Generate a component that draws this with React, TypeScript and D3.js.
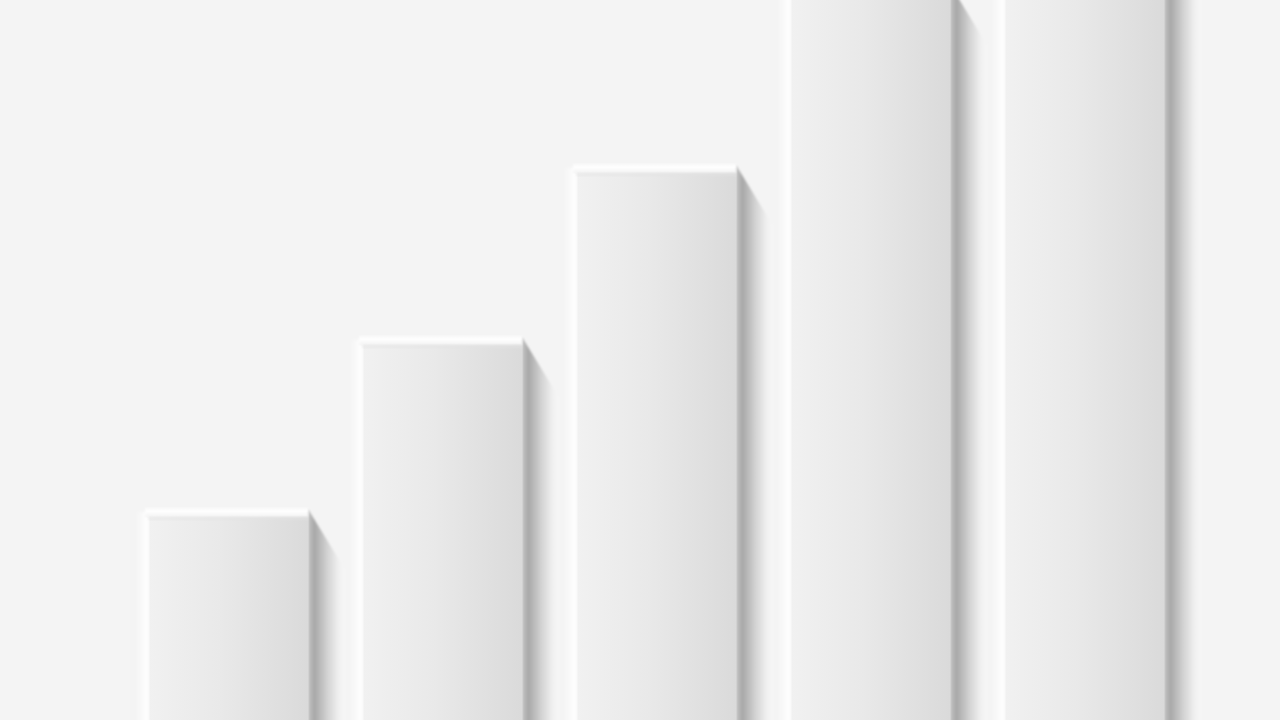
import React from 'react';
import * as d3 from 'd3';

const categories = ['A', 'B', 'C', 'D', 'E'];
const values = [20, 40, 60, 81, 100];

const W = 1280;
const H = 720;

const App: React.FC = () => {
  const x = d3.scaleBand<string>()
    .domain(categories)
    .range([121, 1191])
    .paddingInner(0.252)
    .paddingOuter(0.126);

  const y = d3.scaleLinear()
    .domain([0, 100])
    .range([684, -176]);

  const bw = x.bandwidth();

  return (
    <svg width={W} height={H} style={{ position: 'fixed', left: 0, top: 0, display: 'block' }}>
      <defs>
        <linearGradient id="body" x1="0" x2="1" y1="0" y2="0">
          <stop offset="0" stopColor="#f1f1f1" />
          <stop offset="0.45" stopColor="#e9e9e9" />
          <stop offset="1" stopColor="#dadada" />
        </linearGradient>
        <linearGradient id="side" x1="0" x2="1" y1="0" y2="0">
          <stop offset="0" stopColor="#c4c4c4" />
          <stop offset="0.18" stopColor="#a8a8a8" />
          <stop offset="0.55" stopColor="#d4d4d4" />
          <stop offset="0.85" stopColor="#f0f0f0" />
          <stop offset="1" stopColor="#f6f6f6" />
        </linearGradient>
        <linearGradient id="glowGrad" x1="0" x2="1" y1="0" y2="0">
          <stop offset="0" stopColor="#ffffff" stopOpacity="0" />
          <stop offset="0.6" stopColor="#ffffff" stopOpacity="0.7" />
          <stop offset="1" stopColor="#ffffff" stopOpacity="1" />
        </linearGradient>
        <linearGradient id="cap" x1="0" x2="0" y1="0" y2="1">
          <stop offset="0" stopColor="#ffffff" stopOpacity="0.6" />
          <stop offset="0.4" stopColor="#ffffff" />
          <stop offset="1" stopColor="#f2f2f2" />
        </linearGradient>
        <filter id="soft" x="-20%" y="-5%" width="140%" height="110%">
          <feGaussianBlur stdDeviation="1.2" />
        </filter>
        <filter id="glow" x="-50%" y="-50%" width="200%" height="200%">
          <feGaussianBlur stdDeviation="1.5" />
        </filter>
      </defs>
      <rect width={W} height={H} fill="#f4f4f4" />
      {categories.map((c, i) => {
        const left = x(c)!;
        const right = left + bw;
        const top = y(values[i]);
        return (
          <g key={c}>
            {/* right face / shadow */}
            <polygon
              points={`${right},${top - 3} ${right + 36},${top + 56} ${right + 36},${H + 10} ${right},${H + 10}`}
              fill="url(#side)"
              filter="url(#soft)"
            />
            {/* left glow */}
            <rect x={left - 12} y={top} width={13} height={H - top + 10} fill="url(#glowGrad)" filter="url(#glow)" />
            {/* body */}
            <rect x={left} y={top} width={bw} height={H - top + 10} fill="url(#body)" />
            <rect x={left} y={top} width={1.5} height={H - top + 10} fill="#fafafa" />
            {/* top cap */}
            <rect x={left - 3} y={top - 4} width={bw + 3} height={9} fill="url(#cap)" filter="url(#soft)" />
            <rect x={left} y={top + 5} width={bw} height={3} fill="#e4e4e4" opacity={0.5} filter="url(#soft)" />
          </g>
        );
      })}
    </svg>
  );
};

export default App;
